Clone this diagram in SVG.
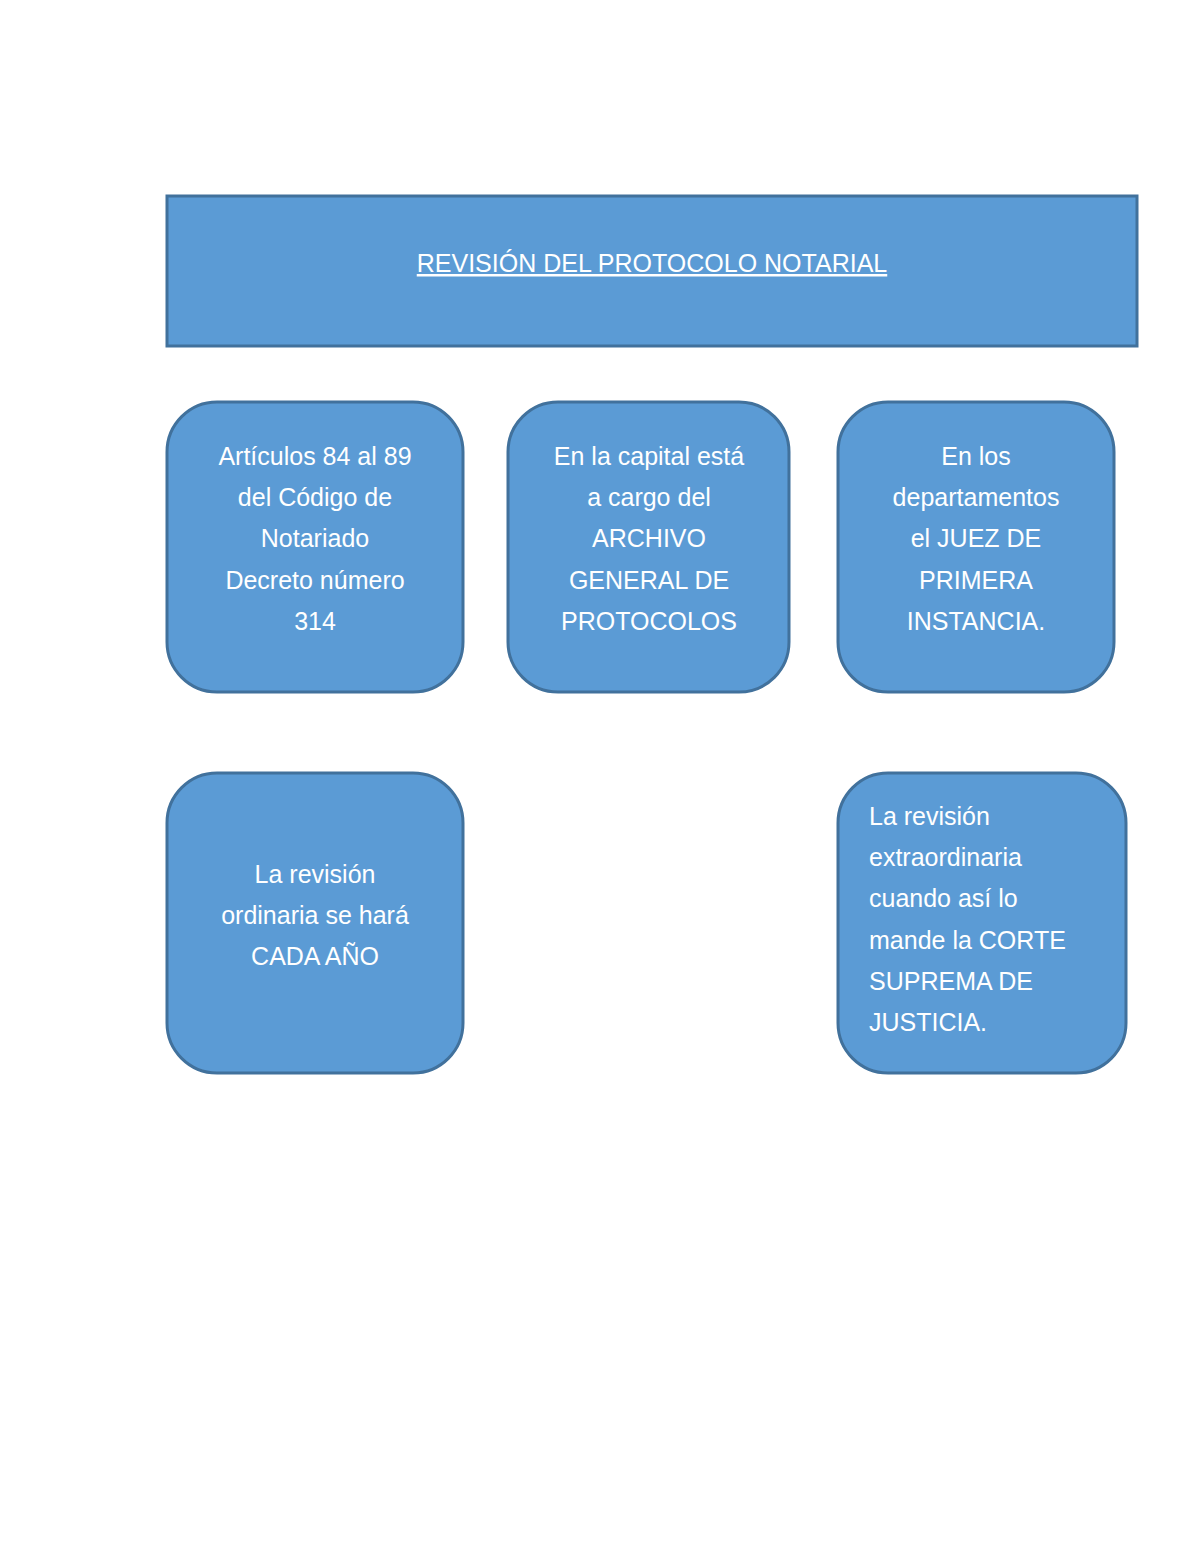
<svg xmlns="http://www.w3.org/2000/svg" width="1200" height="1553" viewBox="0 0 1200 1553">
<style>
.b{fill:#5B9BD5;stroke:#41719C;stroke-width:3}
.t{font-family:"Liberation Sans",Arial,sans-serif;font-size:25px;fill:#fff;text-anchor:middle}
.l{text-anchor:start}
</style>
<rect width="1200" height="1553" fill="#fff"/>
<g id="title"><rect class="b" x="167" y="196" width="970" height="150"/>
<text class="t" x="652" y="272" text-decoration="underline">REVISIÓN DEL PROTOCOLO NOTARIAL</text></g>
<g id="n1"><rect class="b" x="167" y="402" width="296" height="290" rx="50"/>
<text class="t" x="315" y="465">Artículos 84 al 89</text><text class="t" x="315" y="506">del Código de</text><text class="t" x="315" y="547">Notariado</text><text class="t" x="315" y="589">Decreto número</text><text class="t" x="315" y="630">314</text></g>
<g id="n2"><rect class="b" x="508" y="402" width="281" height="290" rx="50"/>
<text class="t" x="649" y="465">En la capital está</text><text class="t" x="649" y="506">a cargo del</text><text class="t" x="649" y="547">ARCHIVO</text><text class="t" x="649" y="589">GENERAL DE</text><text class="t" x="649" y="630">PROTOCOLOS</text></g>
<g id="n3"><rect class="b" x="838" y="402" width="276" height="290" rx="50"/>
<text class="t" x="976" y="465">En los</text><text class="t" x="976" y="506">departamentos</text><text class="t" x="976" y="547">el JUEZ DE</text><text class="t" x="976" y="589">PRIMERA</text><text class="t" x="976" y="630">INSTANCIA.</text></g>
<g id="n4"><rect class="b" x="167" y="773" width="296" height="300" rx="50"/>
<text class="t" x="315" y="883">La revisión</text><text class="t" x="315" y="924">ordinaria se hará</text><text class="t" x="315" y="965">CADA AÑO</text></g>
<g id="n5"><rect class="b" x="838" y="773" width="288" height="300" rx="50"/>
<text class="t l" x="869" y="825">La revisión</text><text class="t l" x="869" y="866">extraordinaria</text><text class="t l" x="869" y="907">cuando así lo</text><text class="t l" x="869" y="949">mande la CORTE</text><text class="t l" x="869" y="990">SUPREMA DE</text><text class="t l" x="869" y="1031">JUSTICIA.</text></g>
<g id="connectors"></g>
</svg>
